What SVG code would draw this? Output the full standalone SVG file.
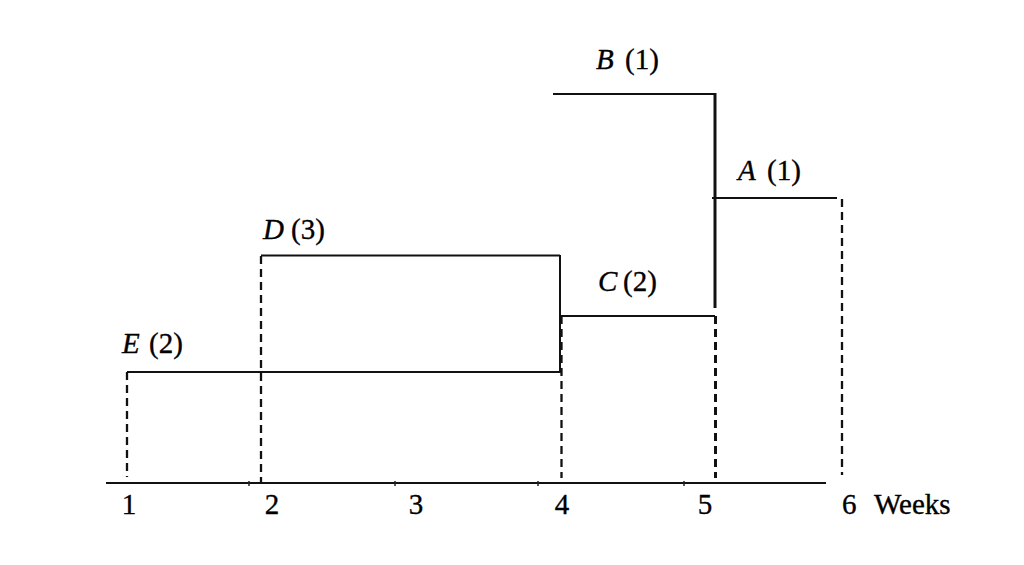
<svg xmlns="http://www.w3.org/2000/svg" width="1024" height="565" viewBox="0 0 1024 565">
<style>
  .bar { stroke: #111; stroke-width: 2; fill: none; }
  .thick { stroke: #111; stroke-width: 3; fill: none; }
  .dash { stroke: #111; stroke-width: 2.3; stroke-dasharray: 8 5; fill: none; }
  .dash3 { stroke: #111; stroke-width: 3; stroke-dasharray: 8 5; fill: none; }
  .lbl { font-family: "Liberation Serif", "Times New Roman", serif; font-size: 29px; fill: #000; stroke: #000; stroke-width: 0.35; }
  .it { font-style: italic; }
</style>
<rect width="1024" height="565" fill="#ffffff"/>
<g id="axis">
  <line class="bar" x1="106" y1="483" x2="826" y2="483"/>
  <g stroke="#222" stroke-width="1.5">
    <line x1="249" y1="481" x2="249" y2="486"/>
    <line x1="395" y1="481" x2="395" y2="486"/>
    <line x1="538" y1="481" x2="538" y2="486"/>
    <line x1="684" y1="481" x2="684" y2="486"/>
  </g>
  <g class="lbl" text-anchor="middle">
    <text x="129" y="514">1</text>
    <text x="272" y="514">2</text>
    <text x="416" y="514">3</text>
    <text x="562" y="514">4</text>
    <text x="705" y="514">5</text>
  </g>
  <text class="lbl" y="514"><tspan x="842">6</tspan> <tspan x="874">Weeks</tspan></text>
</g>
<g id="task-E">
  <line class="bar" x1="127" y1="372" x2="560" y2="372"/>
  <text class="lbl" y="353"><tspan class="it" x="122">E</tspan> <tspan x="149">(2)</tspan></text>
</g>
<g id="task-D">
  <line class="bar" x1="261" y1="255.5" x2="560" y2="255.5"/>
  <text class="lbl" y="239"><tspan class="it" x="263">D</tspan> <tspan x="291">(3)</tspan></text>
</g>
<g id="task-C">
  <line class="bar" x1="561" y1="316" x2="715" y2="316"/>
  <text class="lbl" y="291"><tspan class="it" x="598">C</tspan> <tspan x="623">(2)</tspan></text>
</g>
<g id="task-B">
  <line class="bar" x1="553" y1="94" x2="715" y2="94"/>
  <text class="lbl" y="69"><tspan class="it" x="596">B</tspan> <tspan x="625">(1)</tspan></text>
</g>
<g id="task-A">
  <line class="bar" x1="712" y1="198" x2="837" y2="198"/>
  <text class="lbl" y="180"><tspan class="it" x="738">A</tspan> <tspan x="767">(1)</tspan></text>
</g>
<g id="connectors">
  <line class="dash" x1="127" y1="372" x2="127" y2="477"/>
  <line class="dash" x1="261" y1="256" x2="261" y2="484"/>
  <line class="bar" x1="560" y1="255" x2="560" y2="373" stroke-width="2.5"/>
  <line class="dash" x1="561.5" y1="316" x2="561.5" y2="478"/>
  <line class="thick" x1="715" y1="93" x2="715" y2="308"/>
  <line class="dash3" x1="715.5" y1="316" x2="715.5" y2="478"/>
  <line class="dash" x1="842" y1="199" x2="842" y2="475"/>
</g>
</svg>
